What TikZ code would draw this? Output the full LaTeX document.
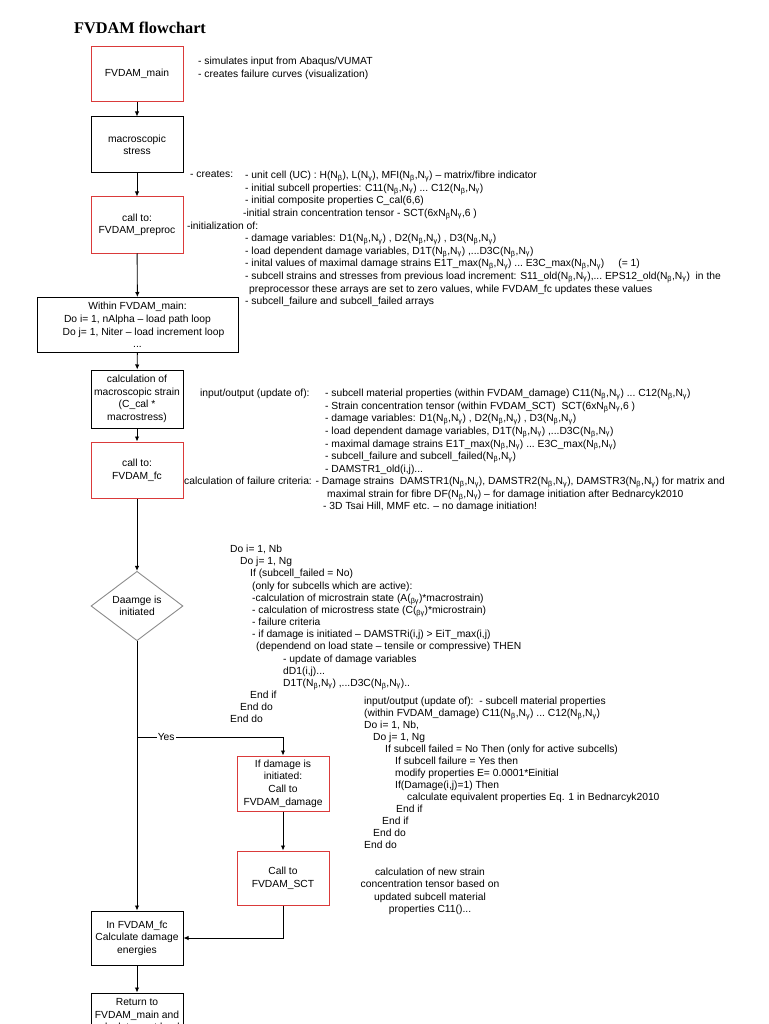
\documentclass[tikz,border=0pt]{standalone}
\usepackage{fontspec}
\setmainfont{Liberation Sans}
\newfontfamily\titlefont{Liberation Serif}
\usetikzlibrary{shapes.geometric,arrows.meta}
\definecolor{boxred}{RGB}{218,58,58}
\definecolor{diagray}{RGB}{140,140,140}
\newcommand{\Nbeta}{N\textsubscript{β}}
\newcommand{\Ngam}{N\textsubscript{γ}}
\newcommand{\txtfont}{\fontsize{10.3}{12.6}\selectfont}
\newcommand{\boxfont}{\fontsize{10.3}{12.6}\selectfont}
\tikzset{
  basebox/.style={minimum width=92pt, minimum height=55pt, align=center, font=\boxfont, inner sep=1pt, line width=1pt},
  redbox/.style={basebox, draw=boxred},
  blkbox/.style={basebox, draw=black},
  decide/.style={diamond, draw=diagray, line width=0.9pt, minimum width=92pt, minimum height=56pt, inner sep=0pt, align=center, font=\boxfont},
  txt/.style={anchor=north west, inner sep=0pt, align=left, font=\txtfont},
  ctxt/.style={anchor=north, inner sep=0pt, align=center, font=\txtfont},
  arr/.style={-{Latex[length=5pt,width=4.5pt]}, line width=0.9pt},
}
\begin{document}
\begin{tikzpicture}[x=1pt,y=-1pt]
\clip (0,0) rectangle (768,1024);
\fill[white] (0,0) rectangle (768,1024);

\node[anchor=base west, inner sep=0pt, font=\titlefont\bfseries\fontsize{16.3}{19}\selectfont] (title) at (74,34) {FVDAM flowchart};

% boxes
\node[redbox] (main) at (137,74) {FVDAM\_main};
\node[blkbox, minimum height=56pt] (macro) at (137,145) {macroscopic\\stress};
\node[redbox, minimum height=56pt] (pre) at (137,225) {call to:\\FVDAM\_preproc};
\node[blkbox, minimum width=201pt, minimum height=55pt] (within) at (137.5,325) {Within FVDAM\_main:\\Do i= 1, nAlpha – load path loop\\\hspace*{12pt}Do j= 1, Niter – load increment loop\\...};
\node[blkbox, minimum height=58pt] (calc) at (137,399) {calculation of\\macroscopic strain\\(C\_cal *\\macrostress)};
\node[redbox, minimum height=56pt] (fc) at (137,470) {call to:\\FVDAM\_fc};
\node[decide] (dmg) at (137,606) {Daamge is\\initiated};
\node[redbox] (dam) at (283,783.5) {If damage is\\initiated:\\Call to\\FVDAM\_damage};
\node[redbox, minimum height=54pt] (sct) at (283,878) {Call to\\FVDAM\_SCT};
\node[blkbox, minimum height=54pt] (infc) at (137,938) {In FVDAM\_fc\\Calculate damage\\energies};
\node[blkbox, minimum height=56pt] (ret) at (137,1021) {Return to\\FVDAM\_main and\\calculate next load\\\mbox{}};

% connectors
\draw[arr] (main) -- (macro);
\draw[arr] (macro) -- (pre);
\draw[arr] (pre) -- (within);
\draw[arr] (within) -- (calc);
\draw[arr] (calc) -- (fc);
\draw[arr] (fc) -- (dmg);
\draw[arr] (dmg) -- (infc);
\coordinate (yb) at (137,737);
\draw[arr] (yb) -- node[pos=0.2, fill=white, inner sep=1pt, font=\txtfont] (yes) {Yes} (yb -| dam) -- (dam);
\draw[arr] (dam) -- (sct);
\draw[arr] (sct.south) |- (infc.east);
\draw[arr] (infc) -- (ret);

% annotations
\node[txt] (tA) at (198,57) {- simulates input from Abaqus/VUMAT\\- creates failure curves (visualization)};

\node[txt] (tB1) at (190,171) {- creates:};
\node[txt] (tB2) at (245,171) {- unit cell (UC) : H(\Nbeta), L(\Ngam), MFI(\Nbeta,\Ngam) – matrix/fibre indicator\\
- initial subcell properties: C11(\Nbeta,\Ngam) ...\ C12(\Nbeta,\Ngam)\\
- initial composite properties C\_cal(6,6)\\
\hspace*{-2pt}-initial strain concentration tensor - SCT(6x\Nbeta\Ngam,6 )};
\node[txt] (tB3) at (187,221.4) {-initialization of:};
\node[txt] (tB4) at (245,234) {- damage variables: D1(\Nbeta,\Ngam) , D2(\Nbeta,\Ngam) , D3(\Nbeta,\Ngam)\\
- load dependent damage variables, D1T(\Nbeta,\Ngam) ,...D3C(\Nbeta,\Ngam)\\
- inital values of maximal damage strains E1T\_max(\Nbeta,\Ngam) ...\ E3C\_max(\Nbeta,\Ngam)\hspace{14pt}(= 1)\\
- subcell strains and stresses from previous load increment: S11\_old(\Nbeta,\Ngam),...\ EPS12\_old(\Nbeta,\Ngam)\ \ in the\\
\hspace*{4pt}preprocessor these arrays are set to zero values, while FVDAM\_fc updates these values\\
- subcell\_failure and subcell\_failed arrays};

\node[txt] (tC1) at (200,389) {input/output (update of):};
\node[txt] (tC2) at (325,389) {- subcell material properties (within FVDAM\_damage) C11(\Nbeta,\Ngam) ...\ C12(\Nbeta,\Ngam)\\
- Strain concentration tensor (within FVDAM\_SCT)\ \ SCT(6x\Nbeta\Ngam,6 )\\
- damage variables: D1(\Nbeta,\Ngam) , D2(\Nbeta,\Ngam) , D3(\Nbeta,\Ngam)\\
- load dependent damage variables, D1T(\Nbeta,\Ngam) ,...D3C(\Nbeta,\Ngam)\\
- maximal damage strains E1T\_max(\Nbeta,\Ngam) ...\ E3C\_max(\Nbeta,\Ngam)\\
- subcell\_failure and subcell\_failed(\Nbeta,\Ngam)\\
- DAMSTR1\_old(i,j)...};
\node[txt] (tC3) at (184,477) {calculation of failure criteria: - Damage strains\ \ DAMSTR1(\Nbeta,\Ngam), DAMSTR2(\Nbeta,\Ngam), DAMSTR3(\Nbeta,\Ngam) for matrix and\\
\hspace*{143pt}maximal strain for fibre DF(\Nbeta,\Ngam) – for damage initiation after Bednarcyk2010\\
\hspace*{139pt}- 3D Tsai Hill, MMF etc. – no damage initiation!};

\node[txt, font=\fontsize{10.3}{12.15}\selectfont] (tD) at (230,545) {Do i= 1, Nb\\
\hspace*{10pt}Do j= 1, Ng\\
\hspace*{20pt}If (subcell\_failed = No)\\
\hspace*{22pt}(only for subcells which are active):\\
\hspace*{22pt}-calculation of microstrain state (A(\textsubscript{βγ})*macrostrain)\\
\hspace*{22pt}- calculation of microstress state (C(\textsubscript{βγ})*microstrain)\\
\hspace*{22pt}- failure criteria\\
\hspace*{22pt}- if damage is initiated – DAMSTRi(i,j) > EiT\_max(i,j)\\
\hspace*{26pt}(dependend on load state – tensile or compressive) THEN\\
\hspace*{53pt}- update of damage variables\\
\hspace*{53pt}dD1(i,j)...\\
\hspace*{53pt}D1T(\Nbeta,\Ngam) ,...D3C(\Nbeta,\Ngam)..\\
\hspace*{20pt}End if\\
\hspace*{10pt}End do\\
End do};

\node[txt, font=\fontsize{10.3}{11.95}\selectfont] (tE) at (364,697) {input/output (update of):\ \ - subcell material properties\\
(within FVDAM\_damage) C11(\Nbeta,\Ngam) ...\ C12(\Nbeta,\Ngam)\\
Do i= 1, Nb,\\
\hspace*{9pt}Do j= 1, Ng\\
\hspace*{21pt}If subcell failed = No Then (only for active subcells)\\
\hspace*{31pt}If subcell failure = Yes then\\
\hspace*{31pt}modify properties E= 0.0001*Einitial\\
\hspace*{31pt}If(Damage(i,j)=1) Then\\
\hspace*{43pt}calculate equivalent properties Eq. 1 in Bednarcyk2010\\
\hspace*{32pt}End if\\
\hspace*{18pt}End if\\
\hspace*{9pt}End do\\
End do};

\node[ctxt, font=\fontsize{10.3}{12.3}\selectfont] (tF) at (430,868) {calculation of new strain\\concentration tensor based on\\updated subcell material\\properties C11()...};
\end{tikzpicture}
\end{document}
